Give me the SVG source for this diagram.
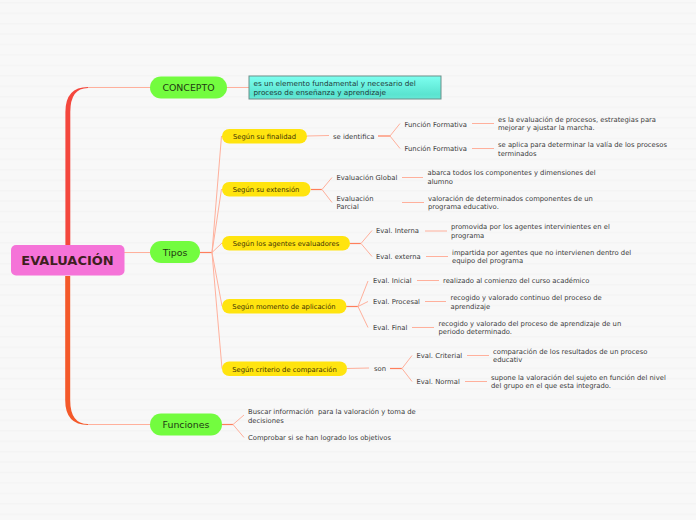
<svg xmlns="http://www.w3.org/2000/svg" width="696" height="520" viewBox="0 0 696 520">
<defs>
<linearGradient id="tealGrad" x1="0" y1="0" x2="0" y2="1"><stop offset="0" stop-color="#7dfff0"/><stop offset="0.8" stop-color="#5ae4d0"/><stop offset="1" stop-color="#66e8d6"/></linearGradient>
<pattern id="bgLines" width="696" height="10.44" patternUnits="userSpaceOnUse" patternTransform="translate(0,2)"><rect width="696" height="10.44" fill="#f8f8f8"/><rect y="0" width="696" height="1.3" fill="#f4f4f4"/></pattern>
</defs>
<style>
text{font-family:"DejaVu Sans","Liberation Sans",sans-serif;font-size:6.8px;fill:#3a3a3a;white-space:pre}
.c{fill:none;stroke:#ffb09c;stroke-width:1}
.t{stroke:#ff7f5c;stroke-width:1.2;fill:none}
.g{fill:#73fc3f}.y{fill:#ffe40f}
.gt{font-size:9.4px;fill:#1f3a12;text-anchor:middle}
.yt{font-size:6.8px;fill:#3d3205;text-anchor:middle}
</style>
<rect width="696" height="520" fill="url(#bgLines)"/>
<g id="connectors">
<path d="M65.400 245V112Q65.400 87 88 87L88 88Q70.300 88 70.300 112V245Z" fill="#f4473d"/>
<path d="M65.200 276V400Q65.200 425 88 425L88 424Q70.200 424 70.200 400V276Z" fill="#f4592a"/>
<path class="c" d="M88 87.500H150"/>
<path class="c" d="M88 424.500H150"/>
<path class="c" d="M226 87.500H249"/>
<path class="c" d="M124 252.500H150"/>
<path class="t" d="M200 252.500H212"/>
<path class="c" d="M212 252.500L221.500 136M212 252.500L221.500 189M212 252.500L222 243M212 252.500L222 306M212 252.500L222 368.500"/>
<path class="c" d="M307 136L329 135.500"/>
<path class="t" d="M378 136H390"/>
<path class="c" d="M390 136L400 123.500M390 136L400 148.500"/>
<path class="c" d="M472 123.500H494M472 148.500H494"/>
<path class="t" d="M311 189.500H322"/>
<path class="c" d="M322 189.500L332 177.500M322 189.500L332 202.500"/>
<path class="c" d="M402 177.500H423M402 202.500H424"/>
<path class="t" d="M350 243.500H361"/>
<path class="c" d="M361 243.500L372 230.500M361 243.500L372 256.500"/>
<path class="c" d="M425 231H447M426 256.500H448"/>
<path class="t" d="M346 306.500H358"/>
<path class="c" d="M358 306.500L368 281M358 306.500L368 301.500M358 306.500L368 327.500"/>
<path class="c" d="M417 280.500H439M425 301.500H446M412 327.500H434"/>
<path class="c" d="M347 368.500L369 368"/>
<path class="t" d="M390 368.500H402"/>
<path class="c" d="M402 368.500L412 355.500M402 368.500L412 381.500"/>
<path class="c" d="M467 355.500H489M465 381.500H487"/>
<path class="t" d="M222 424.500H233"/>
<path class="c" d="M233 424.500L244 415M233 424.500L244 437.500"/>
</g>
<g id="root"><rect x="11" y="245" width="113.500" height="30.500" rx="5" fill="#f573d8"/><text x="67.500" y="265" text-anchor="middle" style="font-size:13px;font-weight:bold;fill:#3f1f1f">EVALUACIÓN</text></g>
<g id="concepto"><rect class="g" x="150" y="76.500" width="77" height="22" rx="11"/><text class="gt" x="188.500" y="91">CONCEPTO</text></g>
<g id="tipos"><rect class="g" x="150" y="241" width="50" height="22" rx="11"/><text class="gt" x="175" y="256">Tipos</text></g>
<g id="funciones"><rect class="g" x="150" y="413.500" width="72" height="22" rx="11"/><text class="gt" x="186" y="428">Funciones</text></g>
<g id="concepto-def"><rect x="249" y="76" width="192" height="23" fill="url(#tealGrad)" stroke="#6d8f8a"/><text x="253.500" y="86" style="fill:#1f3a3a;font-size:7.25px">es un elemento fundamental y necesario del</text><text x="253.500" y="95" style="fill:#1f3a3a;font-size:7.25px">proceso de enseñanza y aprendizaje</text></g>
<g id="finalidad"><rect class="y" x="222" y="129" width="85" height="14.500" rx="7.200"/><text class="yt" x="264.500" y="138.500">Según su finalidad</text></g>
<g id="extension"><rect class="y" x="222" y="182" width="88.500" height="14.500" rx="7.200"/><text class="yt" x="266" y="192">Según su extensión</text></g>
<g id="agentes"><rect class="y" x="222" y="236" width="128" height="14.500" rx="7.200"/><text class="yt" x="286" y="246">Según los agentes evaluadores</text></g>
<g id="momento"><rect class="y" x="222" y="299" width="124.500" height="14.500" rx="7.200"/><text class="yt" x="284" y="309">Según momento de aplicación</text></g>
<g id="criterio"><rect class="y" x="222" y="361.500" width="125" height="14.500" rx="7.200"/><text class="yt" x="284.500" y="371.500">Según criterio de comparación</text></g>
<g id="t-identifica"><text x="333" y="138.500">se identifica</text></g>
<g id="t-ff1"><text x="404.500" y="126.500">Función Formativa</text></g>
<g id="t-ff2"><text x="404.500" y="151">Función Formativa</text></g>
<g id="t-ff1d"><text x="498" y="122">es la evaluación de procesos, estrategias para</text><text x="498" y="130">mejorar y ajustar la marcha.</text></g>
<g id="t-ff2d"><text x="498" y="147">se aplica para determinar la valía de los procesos</text><text x="498" y="156">terminados</text></g>
<g id="t-global"><text x="336.500" y="180">Evaluación Global</text></g>
<g id="t-parcial"><text x="336.500" y="201">Evaluación</text><text x="336.500" y="209">Parcial</text></g>
<g id="t-globald"><text x="427.500" y="175">abarca todos los componentes y dimensiones del</text><text x="427.500" y="184">alumno</text></g>
<g id="t-parciald"><text x="428" y="201">valoración de determinados componentes de un</text><text x="428" y="209">programa educativo.</text></g>
<g id="t-interna"><text x="376" y="233">Eval. Interna</text></g>
<g id="t-externa"><text x="376" y="259">Eval. externa</text></g>
<g id="t-internad"><text x="451" y="229">promovida por los agentes intervinientes en el</text><text x="451" y="238">programa</text></g>
<g id="t-externad"><text x="452" y="255">impartida por agentes que no intervienen dentro del</text><text x="452" y="263">equipo del programa</text></g>
<g id="t-inicial"><text x="373" y="283">Eval. Inicial</text></g>
<g id="t-procesal"><text x="373" y="304">Eval. Procesal</text></g>
<g id="t-final"><text x="373" y="330">Eval. Final</text></g>
<g id="t-iniciald"><text x="443" y="283">realizado al comienzo del curso académico</text></g>
<g id="t-procesald"><text x="450.500" y="300">recogido y valorado continuo del proceso de</text><text x="450.500" y="309">aprendizaje</text></g>
<g id="t-finald"><text x="438.500" y="326">recogido y valorado del proceso de aprendizaje de un</text><text x="438.500" y="334">periodo determinado.</text></g>
<g id="t-son"><text x="374" y="371">son</text></g>
<g id="t-criterial"><text x="416.500" y="358">Eval. Criterial</text></g>
<g id="t-normal"><text x="416.500" y="384">Eval. Normal</text></g>
<g id="t-criteriald"><text x="493" y="354">comparación de los resultados de un proceso</text><text x="493" y="362">educativ</text></g>
<g id="t-normald"><text x="491" y="380">supone la valoración del sujeto en función del nivel</text><text x="491" y="388">del grupo en el que esta integrado.</text></g>
<g id="t-buscar"><text x="248" y="414">Buscar información  para la valoración y toma de</text><text x="248" y="423">decisiones</text></g>
<g id="t-comprobar"><text x="248" y="440">Comprobar si se han logrado los objetivos</text></g>
</svg>
